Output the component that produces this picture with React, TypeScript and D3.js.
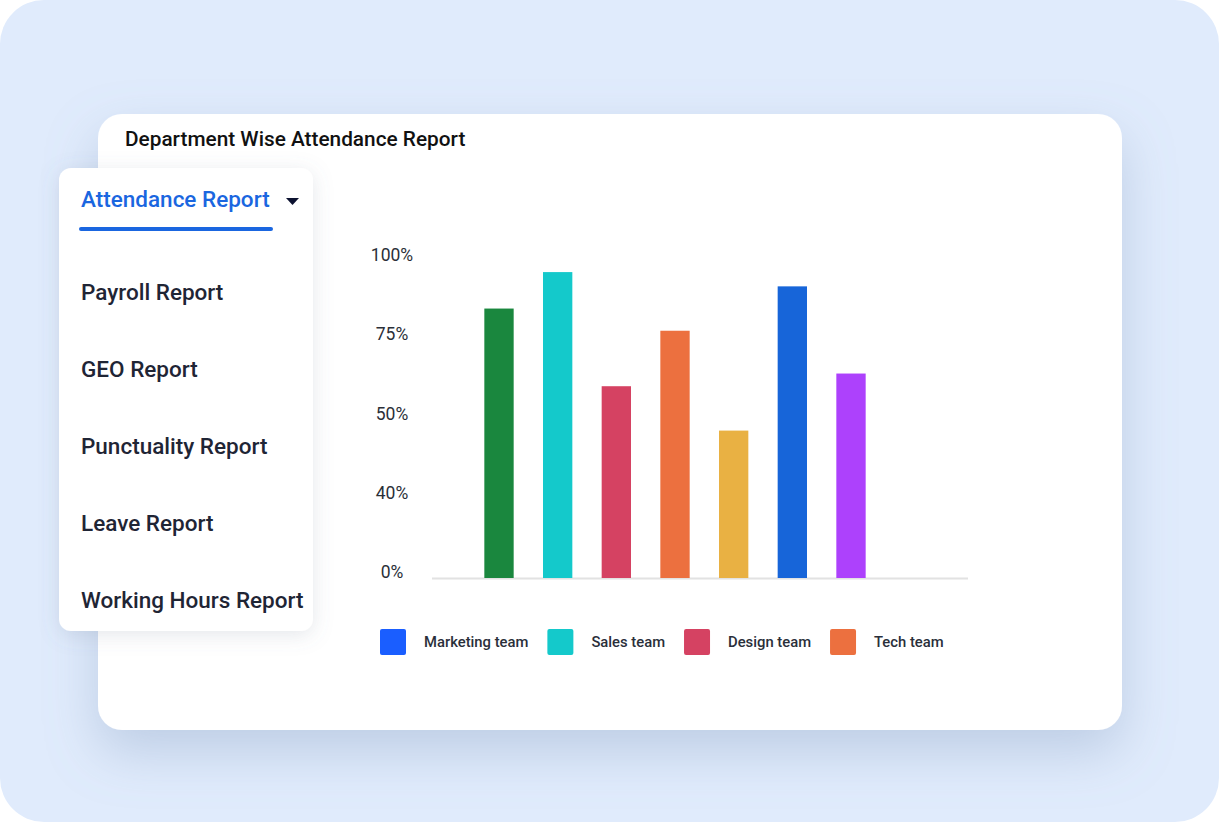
import { useEffect, useRef } from 'react';
import * as d3 from 'd3';

const W = 1220;
const H = 823;

// bars, left to right
const barKeys = ['b1', 'b2', 'b3', 'b4', 'b5', 'b6', 'b7'];
const barValues = [85, 96.5, 60.5, 78, 46.5, 92, 64.5];
const barColors = ['#1a873e', '#14c9cb', '#d54262', '#ec703f', '#e9b143', '#1765d9', '#ad41fc'];

// axis ticks (labels as printed on the chart)
const tickValues = [0, 25, 50, 75, 100];
const tickLabels = ['0%', '40%', '50%', '75%', '100%'];

const legendNames = ['Marketing team', 'Sales team', 'Design team', 'Tech team'];
const legendColors = ['#1a5eff', '#14c9cb', '#d54262', '#ec703f'];

const menuItems = ['Payroll Report', 'GEO Report', 'Punctuality Report', 'Leave Report', 'Working Hours Report'];

const FONT = 'Roboto, "Noto Sans", sans-serif';

export default function App() {
  const ref = useRef<SVGSVGElement>(null);

  useEffect(() => {
    if (!ref.current) return;
    const svg = d3.select(ref.current);
    svg.selectAll('*').remove();

    const defs = svg.append('defs');
    const cardShadow = defs.append('filter').attr('id', 'cardShadow').attr('x', '-20%').attr('y', '-20%').attr('width', '140%').attr('height', '150%');
    cardShadow.append('feDropShadow').attr('dx', 0).attr('dy', 22).attr('stdDeviation', 26).attr('flood-color', '#7d95b8').attr('flood-opacity', 0.35);
    const menuShadow = defs.append('filter').attr('id', 'menuShadow').attr('x', '-30%').attr('y', '-20%').attr('width', '160%').attr('height', '140%');
    menuShadow.append('feDropShadow').attr('dx', 0).attr('dy', 4).attr('stdDeviation', 10).attr('flood-color', '#6b7a90').attr('flood-opacity', 0.18);

    // page background
    svg.append('rect').attr('width', W).attr('height', H).attr('fill', '#ffffff');
    svg.append('rect').attr('x', 0).attr('y', 0).attr('width', W - 1).attr('height', H - 1).attr('rx', 44).attr('fill', '#e0ebfc');

    // card
    svg.append('rect').attr('x', 98).attr('y', 114).attr('width', 1024).attr('height', 616).attr('rx', 24)
      .attr('fill', '#fff').attr('filter', 'url(#cardShadow)');
    svg.append('text').attr('x', 125).attr('y', 146).attr('font-family', FONT).attr('font-size', 20.8).attr('font-weight', 500)
      .attr('fill', '#111').text('Department Wise Attendance Report');

    // chart
    const baseline = 578;
    const y = d3.scaleLinear().domain([0, 100]).range([baseline, 261]);
    const x = d3.scaleBand<string>().domain(barKeys).range([455, 895]).padding(0.5);

    const g = svg.append('g');
    g.append('line').attr('x1', 432).attr('x2', 968).attr('y1', baseline + 0.5).attr('y2', baseline + 0.5)
      .attr('stroke', '#e2e2e2').attr('stroke-width', 2);

    g.selectAll('rect.bar').data(barKeys).join('rect').attr('class', 'bar')
      .attr('x', (d) => x(d)!)
      .attr('width', x.bandwidth())
      .attr('y', (_, i) => y(barValues[i]))
      .attr('height', (_, i) => baseline - y(barValues[i]))
      .attr('fill', (_, i) => barColors[i]);

    g.selectAll('text.tick').data(tickValues).join('text').attr('class', 'tick')
      .attr('x', 392).attr('y', (d) => y(d) - 6)
      .attr('text-anchor', 'middle').attr('dominant-baseline', 'central')
      .attr('font-family', FONT).attr('font-size', 17.5).attr('fill', '#2b2f38')
      .text((_, i) => tickLabels[i]);

    // legend
    const lg = svg.append('g');
    let lx = 380;
    legendNames.forEach((name, i) => {
      lg.append('rect').attr('x', lx).attr('y', 629).attr('width', 26).attr('height', 26).attr('rx', 2).attr('fill', legendColors[i]);
      const t = lg.append('text').attr('x', lx + 44).attr('y', 647).attr('font-family', FONT).attr('font-size', 14.8)
        .attr('font-weight', 500).attr('fill', '#2a2f3a').text(name);
      const tw = (t.node() as SVGTextElement).getComputedTextLength();
      lx = lx + 44 + tw + 19;
    });

    // dropdown menu
    const m = svg.append('g');
    m.append('rect').attr('x', 59).attr('y', 168).attr('width', 254).attr('height', 463).attr('rx', 12)
      .attr('fill', '#fff').attr('filter', 'url(#menuShadow)');
    m.append('text').attr('x', 81).attr('y', 207).attr('font-family', FONT).attr('font-size', 22.5).attr('font-weight', 500)
      .attr('fill', '#1a66e0').text('Attendance Report');
    m.append('path').attr('d', 'M286,198 L299,198 L292.5,205 Z').attr('fill', '#0c1230');
    m.append('line').attr('x1', 81).attr('x2', 271).attr('y1', 229).attr('y2', 229)
      .attr('stroke', '#1a66e0').attr('stroke-width', 4).attr('stroke-linecap', 'round');

    m.selectAll('text.item').data(menuItems).join('text').attr('class', 'item')
      .attr('x', 81).attr('y', (_, i) => 300 + i * 77)
      .attr('font-family', FONT).attr('font-size', 22.5).attr('font-weight', 500).attr('fill', '#1f2535')
      .text((d) => d);
  }, []);

  return <svg ref={ref} width={W} height={H} style={{ position: 'absolute', left: 0, top: 0 }} />;
}
